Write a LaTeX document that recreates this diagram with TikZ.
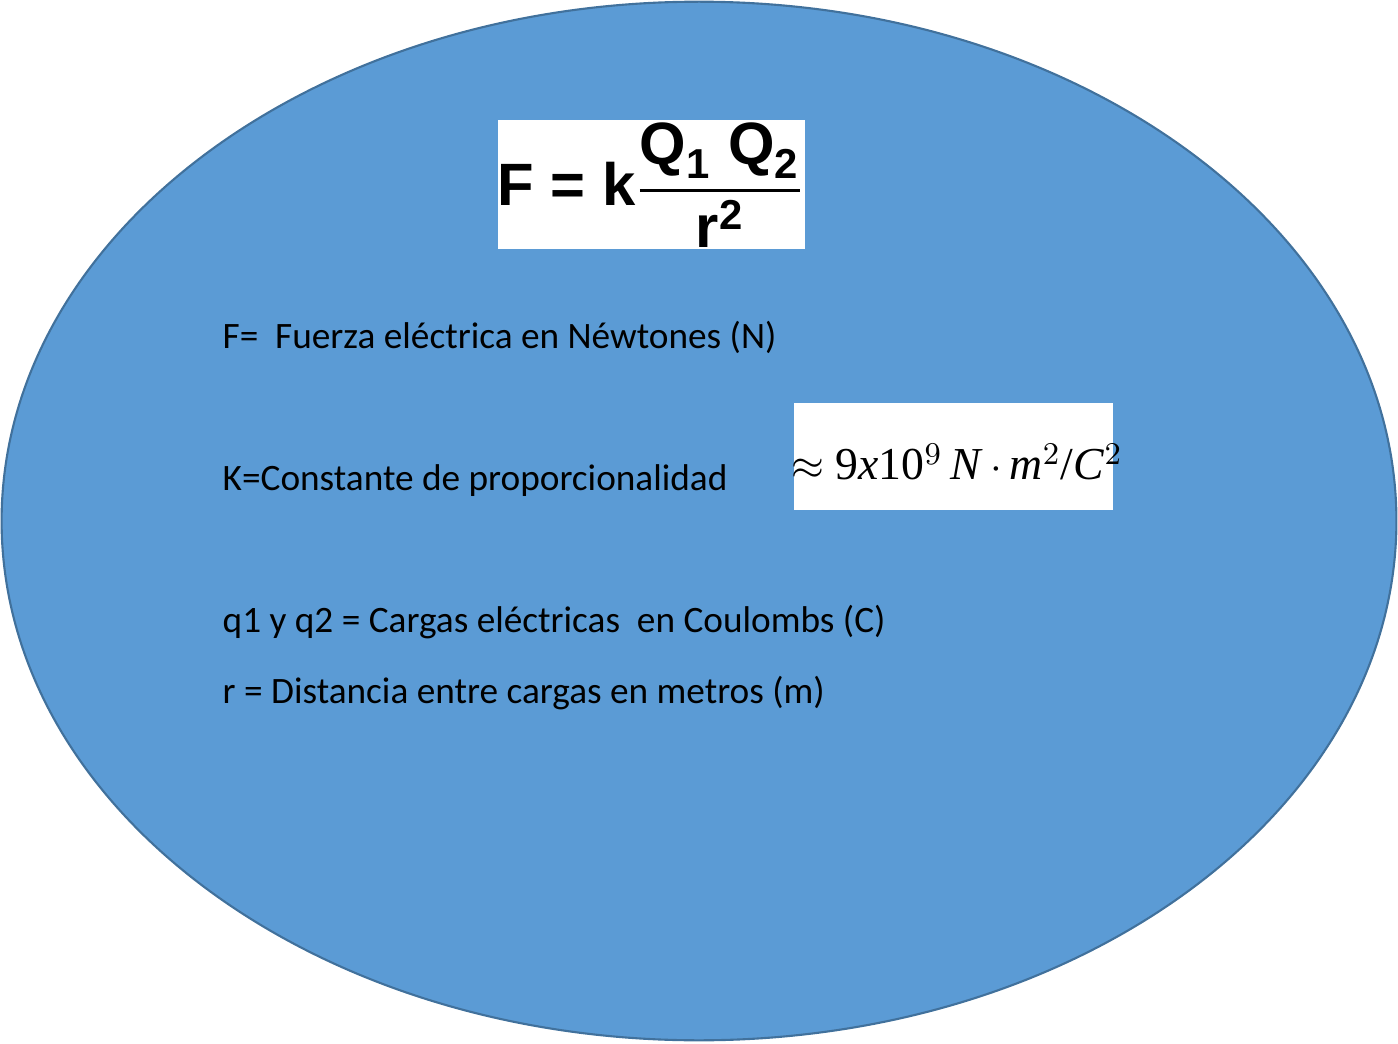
\documentclass[tikz,border=0pt]{standalone}
\usepackage{fontspec}
\setmainfont{Carlito}
\newfontfamily\arialf{Liberation Sans}
\newfontfamily\timesf{Liberation Serif}
\usepackage{amsmath}
\usetikzlibrary{shapes.geometric}
\definecolor{ellfill}{HTML}{5B9BD5}
\definecolor{elldraw}{HTML}{41719C}
\tikzset{txt/.style={anchor=base west,font=\fontsize{10.6pt}{12pt}\selectfont,inner sep=0pt},
whitebox/.style={fill=white,draw=none}}
\begin{document}
\begin{tikzpicture}[x=0.01cm,y=-0.01cm]
\useasboundingbox (0,0) rectangle (1398,1043);
\node[ellipse,draw=elldraw,fill=ellfill,line width=0.6pt,minimum width=13.94cm,minimum height=10.38cm,inner sep=0pt] (ell) at (699,521) {};
\fill[white] (498,120) rectangle (805,249);
\node (f1) at (651,185) {\arialf\bfseries\fontsize{17pt}{20pt}\selectfont F = k$\dfrac{\textbf{Q}_{\textbf{1}}\;\textbf{Q}_{\textbf{2}}}{\textbf{r}^{\textbf{2}}}$};
\fill[white] (794,403) rectangle (1113,510);
\node (f2) at (957,462) {\timesf\fontsize{13pt}{15pt}\selectfont $\approx$ 9\textit{x}10$^{9}$\,\textit{N}\,$\cdot$\,\textit{m}$^{2}$/\textit{C}$^{2}$};
\node[txt] (t1) at (222,348) {F=\ \ Fuerza eléctrica en Néwtones (N)};
\node[txt] (t2) at (222,490) {K=Constante de proporcionalidad};
\node[txt] (t3) at (222,632) {q1 y q2 = Cargas eléctricas\ \ en Coulombs (C)};
\node[txt] (t4) at (222,703) {r = Distancia entre cargas en metros (m)};
\end{tikzpicture}
\end{document}
